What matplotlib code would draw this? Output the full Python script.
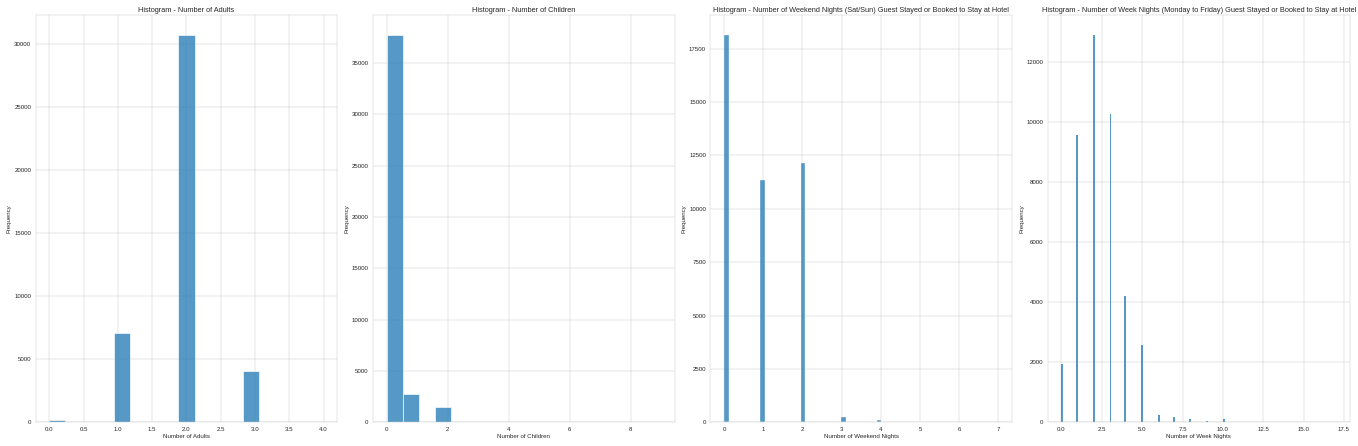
import numpy as np
import matplotlib
matplotlib.use("Agg")
import matplotlib.pyplot as plt
import seaborn as sns

# counts per value
adults_vals = [0, 1, 2, 3, 4]
adults_counts = [160, 7100, 30750, 4070, 20]

children_vals = [0, 1, 2, 3, 9]
children_counts = [37750, 2760, 1555, 30, 5]

weekend_vals = [0, 1, 2, 3, 4, 5, 6, 7]
weekend_counts = [18150, 11370, 12130, 250, 110, 45, 20, 10]

week_vals = [0, 1, 2, 3, 4, 5, 6, 7, 8, 9, 10, 11, 12, 13, 14, 15, 16, 17]
week_counts = [1945, 9570, 12900, 10280, 4200, 2575, 243, 177, 100, 66, 100,
               20, 20, 15, 5, 10, 10, 5]

sns.set_style("whitegrid")
plt.rcParams['font.family'] = ['Liberation Sans', 'DejaVu Sans']

panels = [
    (adults_vals, adults_counts, "Histogram - Number of Adults", "Number of Adults", 17),
    (children_vals, children_counts, "Histogram - Number of Children", "Number of Children", 17),
    (weekend_vals, weekend_counts,
     "Histogram - Number of Weekend Nights (Sat/Sun) Guest Stayed or Booked to Stay at Hotel",
     "Number of Weekend Nights", 61),
    (week_vals, week_counts,
     "Histogram - Number of Week Nights (Monday to Friday) Guest Stayed or Booked to Stay at Hotel",
     "Number of Week Nights", 148),
]

fig, axes = plt.subplots(1, 4, figsize=(1358 / 44.6, 446 / 44.6), dpi=44.6)

for ax, (vals, counts, title, xlabel, nbins) in zip(axes, panels):
    data = np.repeat(vals, counts)
    if nbins > 100:
        sns.histplot(data, ax=ax, bins=nbins, linewidth=0)
    else:
        sns.histplot(data, ax=ax, bins=nbins)
    ax.set_title(title)
    ax.set_xlabel(xlabel)
    ax.set_ylabel("Frequency")

plt.tight_layout()
plt.savefig("out.png", dpi=44.6)
